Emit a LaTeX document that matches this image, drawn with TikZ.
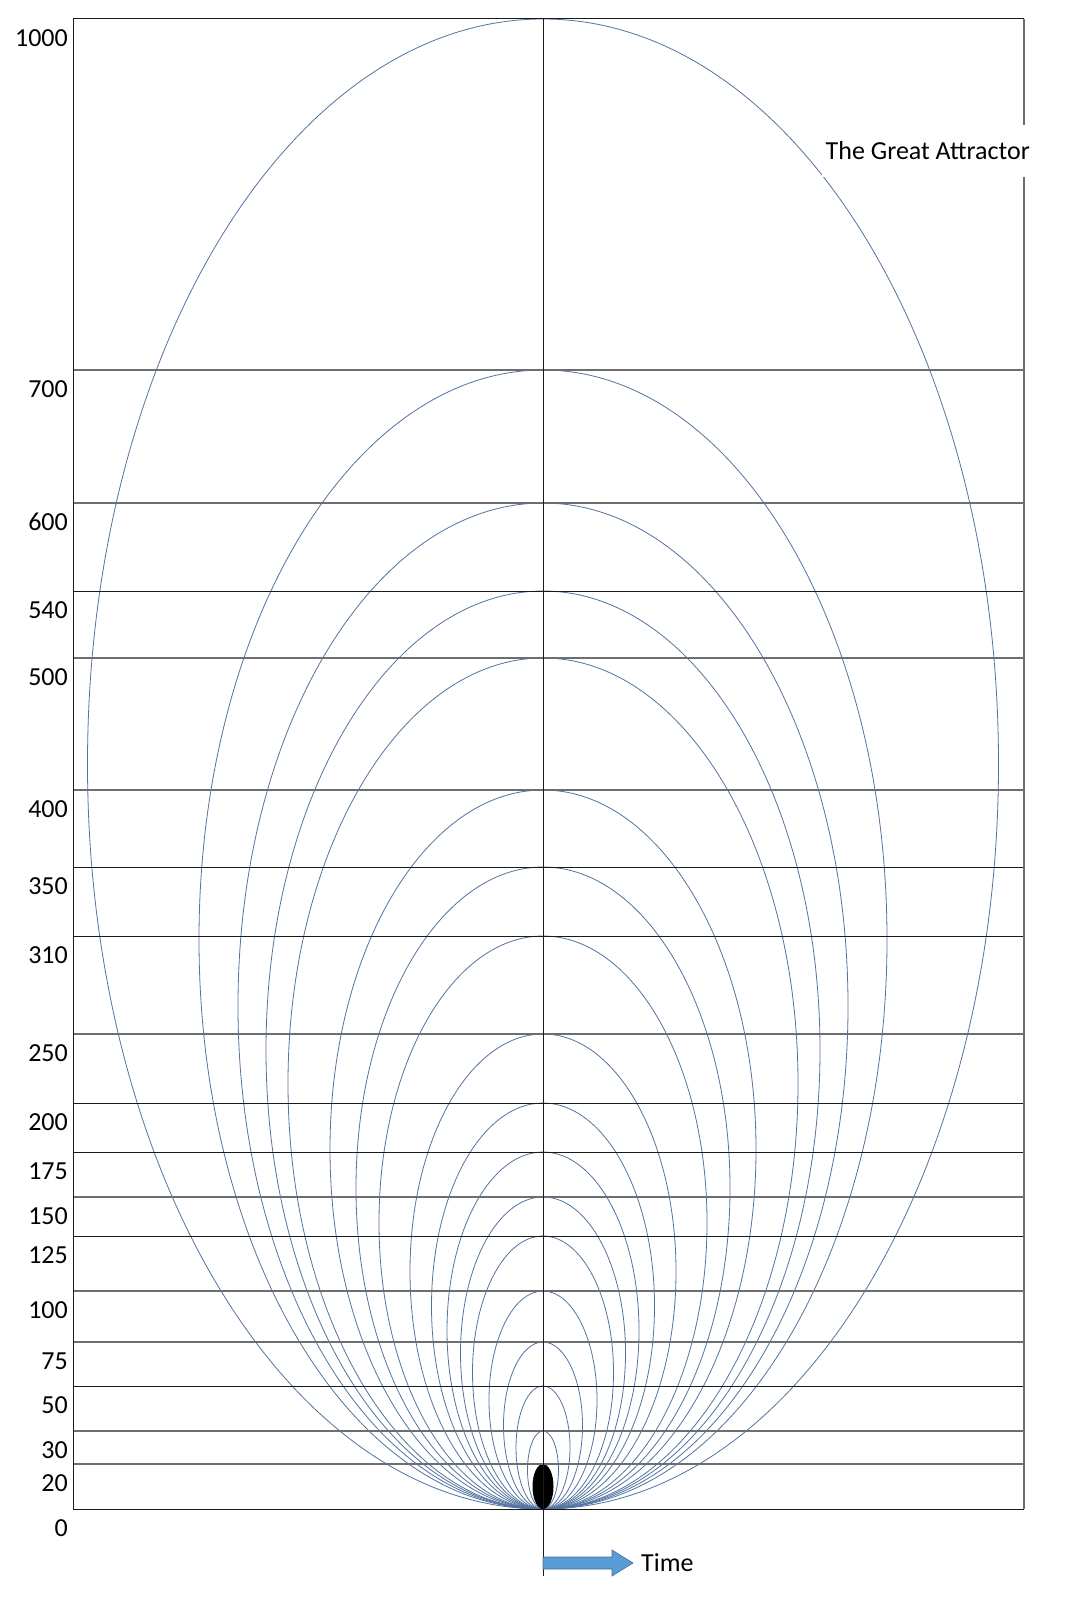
\documentclass[tikz,border=0pt]{standalone}
\usepackage{fontspec}
\setmainfont{Carlito}
\definecolor{ellcol}{HTML}{5274A0}
\definecolor{arrowfill}{HTML}{5B9BD5}
\definecolor{arrowdraw}{HTML}{41719C}
\definecolor{darkline}{HTML}{1A1A1A}
\definecolor{greyline}{HTML}{6E6E6E}
\begin{document}
\begin{tikzpicture}[x=1pt,y=-1pt,
  gridline/.style={draw=darkline,line width=1pt},
  greygrid/.style={draw=greyline,line width=1.1pt},
  ell/.style={draw=ellcol,line width=0.8pt},
  lbl/.style={anchor=east,font=\fontsize{26}{30}\selectfont,inner sep=0pt}]
\useasboundingbox (0,0) rectangle (1072,1600);
\fill[white] (0,0) rectangle (1072,1600);
% ellipses: {top y / width}
\foreach \t/\w in {19/911, 370/688, 503/610, 591/554, 658/510, 790/426, 867/374, 936/328, 1034/266, 1103/223, 1152/192, 1197/165, 1236/141, 1291/108, 1342/79, 1386/54, 1431/31}{
  \pgfmathsetmacro{\hh}{(1509-\t)/2}
  \pgfmathsetmacro{\ww}{\w/2}
  \draw[ell] (543,{1509-\hh}) ellipse [x radius=\ww pt, y radius=\hh pt];
}
\fill[black] (543,1486.5) ellipse [x radius=10.5pt, y radius=22.5pt];
% horizontal lines
\foreach \yy in {591,867,936,1103,1152,1236,1386}{
  \draw[gridline] (73,\yy) -- (1024,\yy);
}
\foreach \yy in {370,503,658,790,1034,1197,1291,1342,1431,1464}{
  \draw[greygrid] (73,\yy) -- (1024,\yy);
}
% frame
\draw[gridline] (73,19) -- (1024,19);
\draw[gridline] (73,1509) -- (1024,1509);
\draw[gridline] (73,19) -- (73,1509);
\draw[greygrid] (1024,19) -- (1024,1509);
% axis
\coordinate (axtop) at (543,19);
\coordinate (axbot) at (543,1576);
\draw[gridline] (axtop) -- (axbot);
% labels
\foreach \yy/\v in {19/1000,370/700,503/600,591/540,658/500,790/400,867/350,936/310,1034/250,1103/200,1152/175,1197/150,1236/125,1291/100,1342/75,1386/50,1431/30,1464/20,1509/0}{
  \node[lbl] (l\v) at (68,\yy+19) {\v};
}
\node[fill=white,inner xsep=4pt,minimum height=52pt,font=\fontsize{26}{30}\selectfont,anchor=east] (ga) at (1034,151) {The Great Attractor};
% time arrow
\filldraw[fill=arrowfill,draw=arrowdraw,line width=0.6pt] (543,1557) -- (612,1557) -- (612,1550) -- (633,1563) -- (612,1576) -- (612,1569) -- (543,1569) -- cycle;
\node[anchor=west,inner sep=0pt,font=\fontsize{26}{30}\selectfont] (time) at (641,1563) {Time};
\end{tikzpicture}
\end{document}
